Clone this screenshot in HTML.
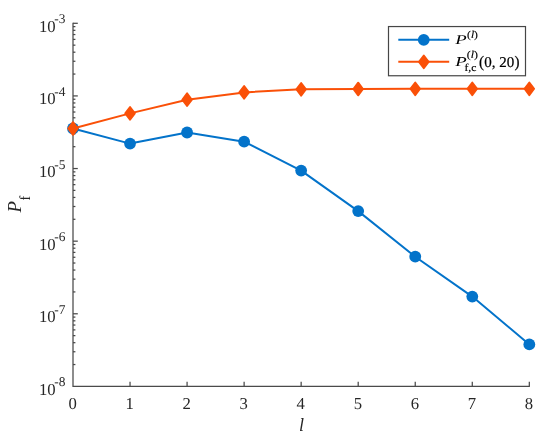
<!DOCTYPE html>
<html><head><meta charset="utf-8"><title>Plot</title><style>html,body{margin:0;padding:0;background:#fff}svg{display:block}</style></head><body>
<svg width="550" height="443" viewBox="0 0 550 443">
<rect width="550" height="443" fill="#fff"/>
<g stroke="#4a4a4a" stroke-width="1.25" fill="none">
<path d="M73.0 22.8V386.40000000000003H529.8199999999999"/>
<path d="M130.04 386.40000000000003v-4.6"/>
<path d="M187.08 386.40000000000003v-4.6"/>
<path d="M244.12 386.40000000000003v-4.6"/>
<path d="M301.16 386.40000000000003v-4.6"/>
<path d="M358.20 386.40000000000003v-4.6"/>
<path d="M415.24 386.40000000000003v-4.6"/>
<path d="M472.28 386.40000000000003v-4.6"/>
<path d="M529.32 386.40000000000003v-4.6"/>
<path d="M73.0 23.30h4.8"/>
<path d="M73.0 74.06h2.4"/>
<path d="M73.0 61.27h2.4"/>
<path d="M73.0 52.20h2.4"/>
<path d="M73.0 45.16h2.4"/>
<path d="M73.0 39.41h2.4"/>
<path d="M73.0 34.55h2.4"/>
<path d="M73.0 30.34h2.4"/>
<path d="M73.0 26.62h2.4"/>
<path d="M73.0 95.92h4.8"/>
<path d="M73.0 146.68h2.4"/>
<path d="M73.0 133.89h2.4"/>
<path d="M73.0 124.82h2.4"/>
<path d="M73.0 117.78h2.4"/>
<path d="M73.0 112.03h2.4"/>
<path d="M73.0 107.17h2.4"/>
<path d="M73.0 102.96h2.4"/>
<path d="M73.0 99.24h2.4"/>
<path d="M73.0 168.54h4.8"/>
<path d="M73.0 219.30h2.4"/>
<path d="M73.0 206.51h2.4"/>
<path d="M73.0 197.44h2.4"/>
<path d="M73.0 190.40h2.4"/>
<path d="M73.0 184.65h2.4"/>
<path d="M73.0 179.79h2.4"/>
<path d="M73.0 175.58h2.4"/>
<path d="M73.0 171.86h2.4"/>
<path d="M73.0 241.16h4.8"/>
<path d="M73.0 291.92h2.4"/>
<path d="M73.0 279.13h2.4"/>
<path d="M73.0 270.06h2.4"/>
<path d="M73.0 263.02h2.4"/>
<path d="M73.0 257.27h2.4"/>
<path d="M73.0 252.41h2.4"/>
<path d="M73.0 248.20h2.4"/>
<path d="M73.0 244.48h2.4"/>
<path d="M73.0 313.78h4.8"/>
<path d="M73.0 364.54h2.4"/>
<path d="M73.0 351.75h2.4"/>
<path d="M73.0 342.68h2.4"/>
<path d="M73.0 335.64h2.4"/>
<path d="M73.0 329.89h2.4"/>
<path d="M73.0 325.03h2.4"/>
<path d="M73.0 320.82h2.4"/>
<path d="M73.0 317.10h2.4"/>
</g>
<g font-family="'Liberation Serif', serif" fill="#262626" font-size="16.7" text-rendering="geometricPrecision">
<text x="72.60" y="408.8" text-anchor="middle">0</text>
<text x="129.64" y="408.8" text-anchor="middle">1</text>
<text x="186.68" y="408.8" text-anchor="middle">2</text>
<text x="243.72" y="408.8" text-anchor="middle">3</text>
<text x="300.76" y="408.8" text-anchor="middle">4</text>
<text x="357.80" y="408.8" text-anchor="middle">5</text>
<text x="414.84" y="408.8" text-anchor="middle">6</text>
<text x="471.88" y="408.8" text-anchor="middle">7</text>
<text x="528.92" y="408.8" text-anchor="middle">8</text>
<text x="38.9" y="31.80">10<tspan font-size="13.4" dy="-8.5" dx="-1.3">-3</tspan></text>
<text x="38.9" y="104.42">10<tspan font-size="13.4" dy="-8.5" dx="-1.3">-4</tspan></text>
<text x="38.9" y="177.04">10<tspan font-size="13.4" dy="-8.5" dx="-1.3">-5</tspan></text>
<text x="38.9" y="249.66">10<tspan font-size="13.4" dy="-8.5" dx="-1.3">-6</tspan></text>
<text x="38.9" y="322.28">10<tspan font-size="13.4" dy="-8.5" dx="-1.3">-7</tspan></text>
<text x="38.9" y="394.90">10<tspan font-size="13.4" dy="-8.5" dx="-1.3">-8</tspan></text>
</g>
<text x="301.5" y="431" text-anchor="middle" font-family="'Liberation Serif', serif" font-style="italic" font-size="18" fill="#262626">l</text>
<text transform="translate(20.5 212.6) rotate(-90)" font-family="'Liberation Serif', serif" font-size="18" fill="#262626"><tspan font-style="italic" font-size="18.6">P</tspan><tspan font-size="14" dy="9.3" dx="0.7">f</tspan></text>
<polyline points="73.00,128.50 130.04,143.60 187.08,132.50 244.12,141.70 301.16,170.60 358.20,211.10 415.24,256.70 472.28,296.60 529.32,344.40" fill="none" stroke="#0373CA" stroke-width="2" stroke-linejoin="round"/>
<circle cx="73.00" cy="128.50" r="5.9" fill="#0373CA"/>
<circle cx="130.04" cy="143.60" r="5.9" fill="#0373CA"/>
<circle cx="187.08" cy="132.50" r="5.9" fill="#0373CA"/>
<circle cx="244.12" cy="141.70" r="5.9" fill="#0373CA"/>
<circle cx="301.16" cy="170.60" r="5.9" fill="#0373CA"/>
<circle cx="358.20" cy="211.10" r="5.9" fill="#0373CA"/>
<circle cx="415.24" cy="256.70" r="5.9" fill="#0373CA"/>
<circle cx="472.28" cy="296.60" r="5.9" fill="#0373CA"/>
<circle cx="529.32" cy="344.40" r="5.9" fill="#0373CA"/>
<polyline points="73.00,128.50 130.04,113.40 187.08,99.70 244.12,92.40 301.16,89.30 358.20,89.00 415.24,88.80 472.28,88.80 529.32,88.80" fill="none" stroke="#FA5008" stroke-width="2" stroke-linejoin="round"/>
<path d="M73.00 122.15L77.80 128.50L73.00 134.85L68.20 128.50Z" fill="#FA5008" stroke="#FA5008" stroke-width="1.9" stroke-linejoin="round"/>
<path d="M130.04 107.05L134.84 113.40L130.04 119.75L125.24 113.40Z" fill="#FA5008" stroke="#FA5008" stroke-width="1.9" stroke-linejoin="round"/>
<path d="M187.08 93.35L191.88 99.70L187.08 106.05L182.28 99.70Z" fill="#FA5008" stroke="#FA5008" stroke-width="1.9" stroke-linejoin="round"/>
<path d="M244.12 86.05L248.92 92.40L244.12 98.75L239.32 92.40Z" fill="#FA5008" stroke="#FA5008" stroke-width="1.9" stroke-linejoin="round"/>
<path d="M301.16 82.95L305.96 89.30L301.16 95.65L296.36 89.30Z" fill="#FA5008" stroke="#FA5008" stroke-width="1.9" stroke-linejoin="round"/>
<path d="M358.20 82.65L363.00 89.00L358.20 95.35L353.40 89.00Z" fill="#FA5008" stroke="#FA5008" stroke-width="1.9" stroke-linejoin="round"/>
<path d="M415.24 82.45L420.04 88.80L415.24 95.15L410.44 88.80Z" fill="#FA5008" stroke="#FA5008" stroke-width="1.9" stroke-linejoin="round"/>
<path d="M472.28 82.45L477.08 88.80L472.28 95.15L467.48 88.80Z" fill="#FA5008" stroke="#FA5008" stroke-width="1.9" stroke-linejoin="round"/>
<path d="M529.32 82.45L534.12 88.80L529.32 95.15L524.52 88.80Z" fill="#FA5008" stroke="#FA5008" stroke-width="1.9" stroke-linejoin="round"/>
<rect x="388.5" y="26.55" width="137" height="49.2" fill="#fff" stroke="#464646" stroke-width="1.2"/>
<path d="M398.3 39.85H449.2" stroke="#0373CA" stroke-width="2"/>
<circle cx="423.75" cy="39.85" r="5.9" fill="#0373CA"/>
<path d="M398.3 61.85H449.2" stroke="#FA5008" stroke-width="2"/>
<path d="M423.80 55.50L428.60 61.85L423.80 68.20L419.00 61.85Z" fill="#FA5008" stroke="#FA5008" stroke-width="1.9" stroke-linejoin="round"/>
<g font-family="'Liberation Serif', serif" text-rendering="geometricPrecision" stroke="#000" stroke-width="0.2">
<text transform="translate(455.30 43.80) scale(1.342 0.960)" font-size="14.0" fill="#000" stroke="none"><tspan font-style="italic">P</tspan></text>
<text transform="translate(467.10 38.19) scale(0.818 0.740)" font-size="14.0" fill="#000"><tspan font-style="normal">(</tspan><tspan font-style="italic">l</tspan><tspan font-style="normal">)</tspan></text>
<text transform="translate(455.30 66.30) scale(1.342 0.971)" font-size="14.0" fill="#000" stroke="none"><tspan font-style="italic">P</tspan></text>
<text transform="translate(466.78 58.19) scale(0.843 0.740)" font-size="14.0" fill="#000"><tspan font-style="normal">(</tspan><tspan font-style="italic">l</tspan><tspan font-style="normal">)</tspan></text>
<text transform="translate(464.44 71.15) scale(0.836 0.766)" font-size="14.0" fill="#000"><tspan font-style="normal">f,c</tspan></text>
<text transform="translate(479.03 66.50) scale(1.085 1.142)" font-size="14.0" fill="#000"><tspan font-style="normal">(</tspan></text>
<text transform="translate(484.23 66.89) scale(1.073 1.073)" font-size="14.0" fill="#000"><tspan font-style="normal">0, 20</tspan></text>
<text transform="translate(514.51 66.50) scale(1.085 1.142)" font-size="14.0" fill="#000"><tspan font-style="normal">)</tspan></text>
</g>
</svg>
</body></html>
